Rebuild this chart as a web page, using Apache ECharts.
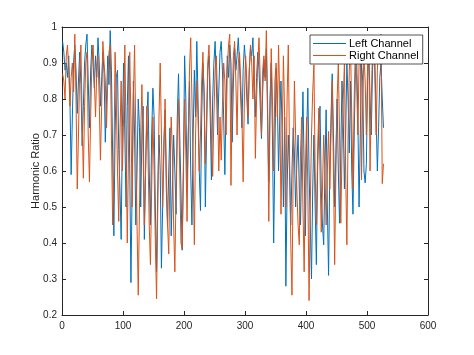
<!DOCTYPE html>
<html>
<head>
<meta charset="utf-8">
<script src="https://cdn.jsdelivr.net/npm/echarts@6/dist/echarts.min.js"></script>
<style>
html,body{margin:0;padding:0;background:#fff;}
#chart{width:474px;height:355px;}
</style>
</head>
<body>
<div id="chart"></div>
<script>
// Frame numbers: every second frame, starting at frame 1
const frameStart = 1;
const frameStep = 2;

const leftChannel = [
  0.96, 0.93, 0.88, 0.90, 0.86, 0.92, 0.80, 0.59, 0.75, 0.90,
  0.95, 0.88, 0.76, 0.85, 0.93, 0.84, 0.67, 0.78, 0.90, 0.95,
  0.98, 0.85, 0.72, 0.88, 0.95, 0.90, 0.83, 0.92, 0.86, 0.97,
  0.90, 0.78, 0.85, 0.93, 0.87, 0.68, 0.80, 0.92, 0.84, 0.99,
  0.88, 0.65, 0.42, 0.70, 0.86, 0.88, 0.66, 0.55, 0.41, 0.72,
  0.90, 0.70, 0.50, 0.78, 0.92, 0.62, 0.29, 0.55, 0.85, 0.70,
  0.45, 0.60, 0.80, 0.72, 0.50, 0.70, 0.78, 0.41, 0.60, 0.75,
  0.82, 0.60, 0.45, 0.70, 0.83, 0.75, 0.50, 0.32, 0.55, 0.70,
  0.60, 0.33, 0.50, 0.68, 0.77, 0.55, 0.45, 0.60, 0.72, 0.42,
  0.55, 0.70, 0.60, 0.48, 0.75, 0.87, 0.70, 0.55, 0.38, 0.60,
  0.92, 0.80, 0.55, 0.70, 0.85, 0.60, 0.45, 0.70, 0.88, 0.75,
  0.96, 0.80, 0.60, 0.49, 0.75, 0.90, 0.82, 0.50, 0.70, 0.88,
  0.92, 0.75, 0.575, 0.80, 0.90, 0.96, 0.85, 0.70, 0.82, 0.93,
  0.96, 0.88, 0.75, 0.59, 0.80, 0.92, 0.86, 0.95, 0.90, 0.68,
  0.85, 0.94, 0.88, 0.92, 0.97, 0.90, 0.80, 0.72, 0.88, 0.95,
  0.90, 0.80, 0.73, 0.88, 0.94, 0.92, 0.97, 0.85, 0.75, 0.86,
  0.93, 0.88, 0.78, 0.69, 0.82, 0.91, 0.86, 0.94, 0.75, 0.57,
  0.80, 0.90, 0.70, 0.40, 0.65, 0.885, 0.80, 0.60, 0.75, 0.85,
  0.70, 0.50, 0.75, 0.28, 0.55, 0.70, 0.60, 0.45, 0.60, 0.72,
  0.65, 0.50, 0.62, 0.70, 0.55, 0.45, 0.65, 0.82, 0.60, 0.42,
  0.70, 0.83, 0.60, 0.45, 0.30, 0.55, 0.70, 0.50, 0.34, 0.60,
  0.72, 0.78, 0.55, 0.45, 0.395, 0.60, 0.77, 0.50, 0.31, 0.60,
  0.75, 0.87, 0.70, 0.50, 0.65, 0.80, 0.60, 0.455, 0.65, 0.85,
  0.75, 0.55, 0.70, 0.90, 0.80, 0.65, 0.85, 0.60, 0.48, 0.70,
  0.88, 0.92, 0.75, 0.50, 0.70, 0.90, 0.85, 0.60, 0.567, 0.62,
  0.85, 0.93, 0.80, 0.70, 0.88, 0.95, 0.90, 0.75, 0.60, 0.72,
  0.86, 0.90, 0.80, 0.72
];

const rightChannel = [
  0.87, 0.85, 0.80, 0.92, 0.95, 0.88, 0.78, 0.86, 0.90, 0.82,
  0.98, 0.80, 0.55, 0.70, 0.88, 0.95, 0.75, 0.58, 0.78, 0.90,
  0.93, 0.70, 0.57, 0.75, 0.90, 0.95, 0.85, 0.75, 0.88, 0.92,
  0.80, 0.63, 0.78, 0.96, 0.90, 0.85, 0.72, 0.85, 0.93, 0.95,
  0.70, 0.45, 0.60, 0.93, 0.80, 0.60, 0.46, 0.70, 0.85, 0.60,
  0.75, 0.95, 0.70, 0.40, 0.65, 0.93, 0.75, 0.50, 0.80, 0.95,
  0.70, 0.45, 0.255, 0.50, 0.70, 0.84, 0.65, 0.45, 0.60, 0.78,
  0.65, 0.45, 0.34, 0.55, 0.75, 0.60, 0.40, 0.245, 0.50, 0.75,
  0.90, 0.70, 0.50, 0.65, 0.80, 0.60, 0.45, 0.37, 0.60, 0.75,
  0.65, 0.45, 0.32, 0.55, 0.70, 0.80, 0.60, 0.40, 0.385, 0.60,
  0.80, 0.65, 0.46, 0.70, 0.88, 0.97, 0.80, 0.60, 0.395, 0.70,
  0.85, 0.75, 0.60, 0.70, 0.85, 0.93, 0.80, 0.62, 0.75, 0.90,
  0.95, 0.82, 0.70, 0.585, 0.75, 0.88, 0.92, 0.80, 0.60, 0.75,
  0.63, 0.78, 0.90, 0.85, 0.70, 0.88, 0.95, 0.98, 0.56, 0.80,
  0.92, 0.96, 0.85, 0.70, 0.90, 0.93, 0.85, 0.75, 0.57, 0.80,
  0.92, 0.85, 0.75, 0.88, 0.95, 0.90, 0.80, 0.92, 0.635, 0.80,
  0.90, 0.97, 0.85, 0.70, 0.88, 0.92, 0.85, 0.99, 0.80, 0.46,
  0.75, 0.94, 0.80, 0.60, 0.85, 0.90, 0.75, 0.95, 0.80, 0.48,
  0.70, 0.92, 0.75, 0.50, 0.80, 0.95, 0.65, 0.40, 0.255, 0.60,
  0.85, 0.70, 0.55, 0.45, 0.395, 0.65, 0.75, 0.50, 0.32, 0.60,
  0.75, 0.55, 0.24, 0.50, 0.70, 0.82, 0.895, 0.60, 0.45, 0.65,
  0.775, 0.60, 0.43, 0.55, 0.70, 0.60, 0.45, 0.60, 0.71, 0.55,
  0.70, 0.85, 0.60, 0.34, 0.60, 0.80, 0.90, 0.70, 0.455, 0.65,
  0.80, 0.90, 0.60, 0.395, 0.70, 0.88, 0.95, 0.75, 0.55, 0.80,
  0.95, 0.85, 0.70, 0.90, 0.96, 0.575, 0.80, 0.92, 0.85, 0.70,
  0.90, 0.95, 0.60, 0.80, 0.93, 0.97, 0.85, 0.70, 0.88, 0.95,
  0.90, 0.98, 0.565, 0.62
];

const seriesNames = ['Left Channel', 'Right Channel'];
const xTicks = [0, 100, 200, 300, 400, 500, 600];
const yTicks = ['0.2', '0.3', '0.4', '0.5', '0.6', '0.7', '0.8', '0.9', '1'];
const yLabel = 'Harmonic Ratio';

function toPairs(values) {
  return values.map((v, i) => [frameStart + i * frameStep, v]);
}

const textColor = '#262626';
const font = '"Liberation Sans", Arial, Helvetica, sans-serif';

const chart = echarts.init(document.getElementById('chart'), null, {renderer: 'canvas'});

const axisCommon = {
  axisLine: {show: true, onZero: false, lineStyle: {color: textColor, width: 1}},
  axisTick: {show: true, inside: true, length: 4, lineStyle: {color: textColor, width: 1}},
  splitLine: {show: false}
};

chart.setOption({
  animation: false,
  backgroundColor: '#fff',
  grid: {left: 62, right: 46, top: 27, bottom: 40, containLabel: false},
  xAxis: [
    Object.assign({
      type: 'value', position: 'bottom',
      min: xTicks[0], max: xTicks[xTicks.length - 1], interval: xTicks[1] - xTicks[0],
      axisLabel: {color: textColor, fontSize: 10, fontFamily: font, margin: 6}
    }, axisCommon),
    Object.assign({
      type: 'value', position: 'top',
      min: xTicks[0], max: xTicks[xTicks.length - 1], interval: xTicks[1] - xTicks[0],
      axisLabel: {show: false}
    }, axisCommon)
  ],
  yAxis: [
    Object.assign({
      type: 'value', position: 'left',
      min: Number(yTicks[0]), max: Number(yTicks[yTicks.length - 1]), interval: 0.1,
      name: yLabel, nameLocation: 'middle', nameGap: 21, nameMoveOverlap: false,
      nameTextStyle: {color: textColor, fontSize: 11, fontFamily: font},
      axisLabel: {
        color: textColor, fontSize: 10, fontFamily: font, margin: 5,
        formatter: function (v) {
          const idx = Math.round((v - Number(yTicks[0])) * 10);
          return yTicks[idx] !== undefined ? yTicks[idx] : '';
        }
      }
    }, axisCommon),
    Object.assign({
      type: 'value', position: 'right',
      min: Number(yTicks[0]), max: Number(yTicks[yTicks.length - 1]), interval: 0.1,
      axisLabel: {show: false}
    }, axisCommon)
  ],
  legend: {
    show: true,
    data: seriesNames,
    orient: 'vertical',
    left: 310, top: 35,
    padding: [3, 4, 3, 3],
    itemGap: 1,
    itemWidth: 33,
    itemHeight: 1,
    icon: 'rect',
    backgroundColor: '#fff',
    borderColor: textColor,
    borderWidth: 0.8,
    borderRadius: 0,
    textStyle: {color: '#000', fontSize: 11, fontFamily: font, padding: [0, 0, 0, -2]}
  },
  series: [
    {
      name: seriesNames[0], type: 'line', xAxisIndex: 0, yAxisIndex: 0,
      data: toPairs(leftChannel), symbol: 'none', showSymbol: false,
      lineStyle: {color: '#0072BD', width: 1}, itemStyle: {color: '#0072BD'},
      z: 2
    },
    {
      name: seriesNames[1], type: 'line', xAxisIndex: 0, yAxisIndex: 0,
      data: toPairs(rightChannel), symbol: 'none', showSymbol: false,
      lineStyle: {color: '#D95319', width: 1}, itemStyle: {color: '#D95319'},
      z: 3
    }
  ]
});
</script>
</body>
</html>
